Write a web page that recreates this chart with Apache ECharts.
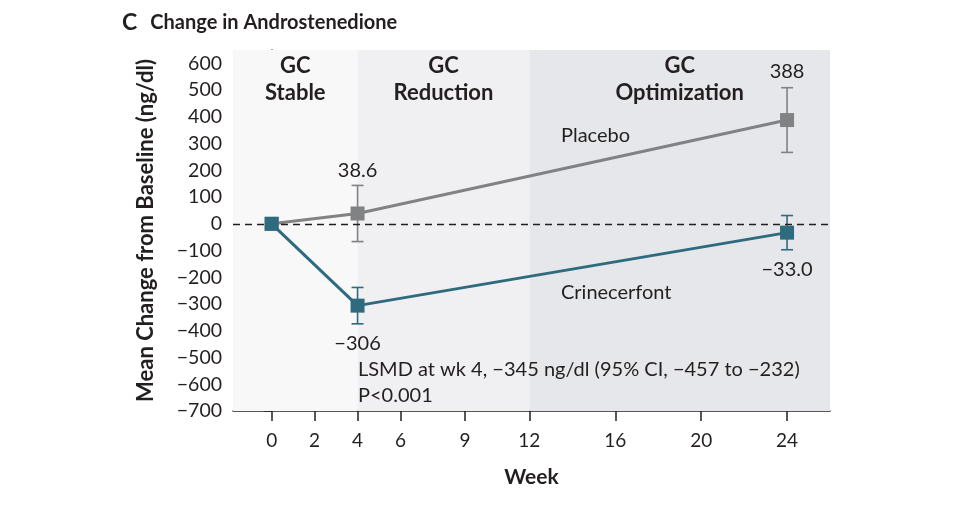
<!DOCTYPE html>
<html>
<head>
<meta charset="utf-8">
<script src="https://cdn.jsdelivr.net/npm/echarts@6/dist/echarts.min.js"></script>
<style>
html,body{margin:0;padding:0;background:#fff;}
#chart{width:971px;height:508px;}
</style>
</head>
<body>
<div id="chart"></div>
<script>
// ---- data ----
const weeks = [0, 4, 24];
const placeboMean = [0, 38.6, 388];
const placeboErr = [0, 105, 121];
const crinecerfontMean = [0, -306, -33.0];
const crinecerfontErr = [0, 68, 64];
const placeboLabels = ['', '38.6', '388'];
const crinecerfontLabels = ['', '\u2212306', '\u221233.0'];
const xTicks = [0, 2, 4, 6, 9, 12, 16, 20, 24];
const yTicks = [-700, -600, -500, -400, -300, -200, -100, 0, 100, 200, 300, 400, 500, 600];
const phases = [
  {name: 'GC\nStable', from: -1.8, to: 4, color: '#f8f8f9'},
  {name: 'GC\nReduction', from: 4, to: 12, color: '#f0f0f3'},
  {name: 'GC\nOptimization', from: 12, to: 26, color: '#e6e7ea'}
];

const FONT = 'Lato';
const INK = '#231f20';
const GRAY = '#808284';
const TEAL = '#2f6b7e';

function fmtMinus(v){ return v < 0 ? '\u2212' + Math.abs(v) : String(v); }

function errorSeries(means, errs, color){
  const data = weeks.map((w,i)=>[w, means[i]-errs[i], means[i]+errs[i]]).filter((d,i)=>errs[i]>0);
  return {
    type: 'custom',
    data: data,
    z: 3,
    renderItem: function(params, api){
      const x = api.value(0);
      const lo = api.coord([x, api.value(1)]);
      const hi = api.coord([x, api.value(2)]);
      const hw = 6;
      const st = {stroke: color, lineWidth: 1.6};
      return {type: 'group', children: [
        {type: 'line', shape: {x1: lo[0], y1: lo[1], x2: hi[0], y2: hi[1]}, style: st},
        {type: 'line', shape: {x1: lo[0]-hw, y1: lo[1], x2: lo[0]+hw, y2: lo[1]}, style: st},
        {type: 'line', shape: {x1: hi[0]-hw, y1: hi[1], x2: hi[0]+hw, y2: hi[1]}, style: st}
      ]};
    }
  };
}

const txt = (s) => ({fontFamily: FONT, fontSize: 20, fill: INK, text: s});

const chart = echarts.init(document.getElementById('chart'));
chart.setOption({
  backgroundColor: '#ffffff',
  animation: false,
  textStyle: {fontFamily: FONT, color: INK},
  title: {
    text: '{c|C}   {t|Change in Androstenedione}',
    left: 117, top: 6,
    textStyle: {
      rich: {
        c: {fontFamily: FONT, fontSize: 23, fontWeight: 'bold', color: INK},
        t: {fontFamily: FONT, fontSize: 20, fontWeight: 'bold', color: INK}
      }
    }
  },
  grid: {left: 233, right: 141, top: 50, bottom: 97},
  xAxis: {
    type: 'value', min: -1.8, max: 26,
    name: 'Week', nameLocation: 'middle', nameGap: 56,
    nameTextStyle: {fontFamily: FONT, fontSize: 21, fontWeight: 'bold', color: INK},
    axisLine: {onZero: false, lineStyle: {color: INK, width: 1.5}},
    axisTick: {show: true, length: 10, customValues: xTicks, lineStyle: {color: INK, width: 1.5}},
    axisLabel: {customValues: xTicks, fontFamily: FONT, fontSize: 19, color: INK, margin: 20},
    splitLine: {show: false}
  },
  yAxis: {
    type: 'value', min: -700, max: 650,
    name: 'Mean Change from Baseline (ng/dl)', nameLocation: 'middle', nameGap: 76,
    nameTextStyle: {fontFamily: FONT, fontSize: 22, fontWeight: 'bold', color: INK},
    axisLine: {show: true, lineStyle: {color: INK, width: 1.5}},
    axisTick: {show: true, length: 8, customValues: yTicks, lineStyle: {color: INK, width: 1.5}},
    axisLabel: {customValues: yTicks, fontFamily: FONT, fontSize: 19.5, color: INK, margin: 11, formatter: v => fmtMinus(v)},
    splitLine: {show: false}
  },
  series: [
    {
      type: 'line', name: 'phases', data: [], silent: true,
      markArea: {
        silent: true,
        data: phases.map(p => [
          {xAxis: p.from, itemStyle: {color: p.color}, name: p.name},
          {xAxis: p.to}
        ]),
        label: {
          show: true, position: 'insideTop', distance: 2,
          fontFamily: FONT, fontSize: 22, fontWeight: 'bold', color: INK, lineHeight: 27, align: 'center'
        }
      },
      markLine: {
        silent: true, symbol: 'none',
        data: [{yAxis: 0}],
        lineStyle: {color: INK, type: [7, 5], width: 1.3},
        label: {show: false}
      }
    },
    errorSeries(placeboMean, placeboErr, GRAY),
    errorSeries(crinecerfontMean, crinecerfontErr, TEAL),
    {
      type: 'line', name: 'Placebo', z: 4,
      data: weeks.map((w,i)=>({
        value: [w, placeboMean[i]],
        label: {show: placeboLabels[i] !== '', formatter: placeboLabels[i], position: 'top', distance: i === 2 ? 32 : 26}
      })),
      symbol: 'rect', symbolSize: 14,
      lineStyle: {color: GRAY, width: 3},
      itemStyle: {color: GRAY},
      label: {fontFamily: FONT, fontSize: 20, color: INK}
    },
    {
      type: 'line', name: 'Crinecerfont', z: 5,
      data: weeks.map((w,i)=>({
        value: [w, crinecerfontMean[i]],
        label: {show: crinecerfontLabels[i] !== '', formatter: crinecerfontLabels[i], position: 'bottom', distance: i === 2 ? 20 : 21}
      })),
      symbol: 'rect', symbolSize: 14,
      lineStyle: {color: TEAL, width: 3},
      itemStyle: {color: TEAL},
      label: {fontFamily: FONT, fontSize: 20, color: INK}
    }
  ],
  graphic: {
    elements: [
      {type: 'text', x: 561, y: 126, z: 100, style: txt('Placebo')},
      {type: 'text', x: 561, y: 283, z: 100, style: txt('Crinecerfont')},
      {type: 'text', x: 358, y: 360, z: 100, style: txt('LSMD at wk 4, \u2212345 ng/dl (95% CI, \u2212457 to \u2212232)')},
      {type: 'text', x: 358, y: 386, z: 100, style: txt('P<0.001')}
    ]
  }
});
</script>
</body>
</html>
